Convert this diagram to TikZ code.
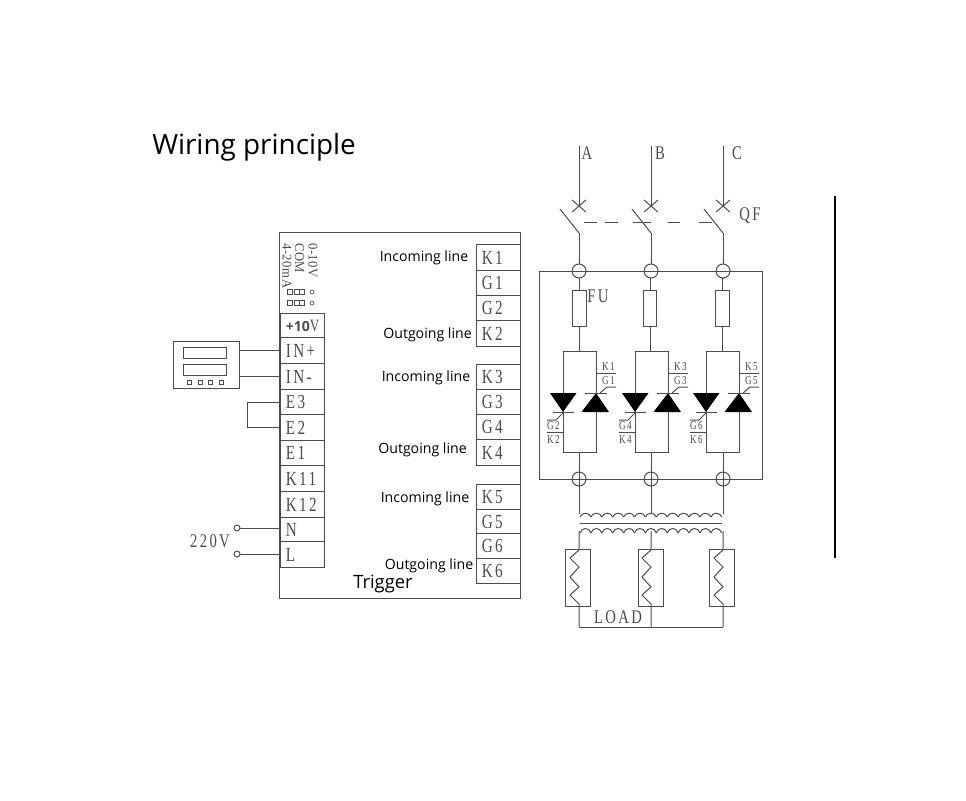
\documentclass[tikz,border=0pt]{standalone}
\usepackage{fontspec}
\setmainfont{Liberation Serif}
\newfontfamily\labfont{Open Sans}
\newfontfamily\termfont[LetterSpace=12,FakeStretch=0.76]{Liberation Serif}
\newfontfamily\topfont[LetterSpace=4,FakeStretch=0.95]{Liberation Serif}
\usetikzlibrary{calc}
\definecolor{ln}{gray}{0.3}
\definecolor{tx}{gray}{0.3}
\tikzset{
 wire/.style={draw=ln,line width=0.75pt},
 box/.style={draw=ln,line width=0.75pt,inner sep=0pt,fill=white},
 term/.style={box,minimum height=#1,text width=25pt,inner xsep=4pt,inner ysep=0pt,align=left,anchor=north west,text=tx,font=\termfont\fontsize{15}{15}\selectfont},
 lab/.style={font=\labfont\fontsize{10.6}{12}\selectfont,text=black,inner sep=0pt},
 tinylab/.style={font=\termfont\fontsize{9}{8}\selectfont,text=tx,inner sep=0pt},
 biglab/.style={font=\termfont\fontsize{14.5}{13}\selectfont,text=tx,inner sep=0pt},
 toplab/.style={font=\topfont\fontsize{10}{8}\selectfont,text=tx,inner sep=0pt,rotate=-90,anchor=west},
 tri/.style={fill=black,draw=none},
 ring/.style={draw=ln,line width=0.75pt,circle,minimum size=10.5pt,inner sep=0pt},
}
\begin{document}
\begin{tikzpicture}[x=0.75pt,y=-0.75pt]
\useasboundingbox (0,0) rectangle (966,800);
\node[font=\labfont\fontsize{20.9}{26}\selectfont,anchor=west,inner sep=0pt] (title) at (152,147.5) {Wiring principle};
% main box
\node[box,minimum width=180.75pt,minimum height=274.5pt,anchor=north west] (main) at (279,232) {};
\node[font=\labfont\fontsize{13.8}{14}\selectfont,inner sep=0pt] (trig) at (383,584) {Trigger};
% rotated labels and switches
\node[toplab] (v10) at (313,243) {0-10V};
\node[toplab] (com) at (299.5,243) {COM};
\node[toplab] (ma) at (287,243) {4-20mA};
\foreach \y in {292,303}{
 \node[box,fill=none,minimum width=4pt,minimum height=3.5pt,line width=0.5pt] (sa\y) at (289.5,\y) {};
 \node[box,fill=none,minimum width=4pt,minimum height=3.5pt,line width=0.5pt] (sb\y) at (296.5,\y) {};
 \node[box,fill=none,minimum width=4pt,minimum height=3.5pt,line width=0.5pt] (sc\y) at (302,\y) {};
 \node[draw=ln,line width=0.5pt,circle,minimum size=3pt,inner sep=0pt] (sd\y) at (312,\y) {};
}
% left terminals
\foreach \n/\t/\a/\h in {p10/{\labfont\bfseries\fontsize{10.5}{11}\selectfont +10\termfont\mdseries\fontsize{13}{13}\selectfont V}/313/18,inp/IN+/337/19.5,inm/IN-/363/19.5,e3/E3/389/18.75,e2/E2/414/19.5,e1/E1/440/18.75,k11/K11/465/19.5,k12/K12/491/19.5,nn/N/517/18,ll/L/541/19.5}{
 \node[term=\h pt] (\n) at (280,\a) {\t};
}
% right terminals
\foreach \n/\t/\a/\h in {tk1/K1/244/19.5,tg1/G1/270/18.75,tg2/G2/295/18.75,tk2/K2/320/19.5,tk3/K3/364/18.75,tg3/G3/389/18.75,tg4/G4/414/18.75,tk4/K4/439/19.5,tk5/K5/484/18.75,tg5/G5/509/18,tg6/G6/533/18.75,tk6/K6/558/18.75}{
 \node[term=\h pt] (\n) at (476,\a) {\t};
}
% line labels
\node[lab] (l1) at (424,257.5) {Incoming line};
\node[lab] (l2) at (427.5,334.5) {Outgoing line};
\node[lab] (l3) at (426,377.5) {Incoming line};
\node[lab] (l4) at (422.5,449.5) {Outgoing line};
\node[lab] (l5) at (425,498.5) {Incoming line};
\node[lab] (l6) at (429,565.5) {Outgoing line};
% meter
\node[box,minimum width=49.5pt,minimum height=35.25pt,anchor=north west] (meter) at (173,341) {};
\node[box,minimum width=32pt,minimum height=8pt,anchor=north west] (d1) at (183,347) {};
\node[box,minimum width=32pt,minimum height=8.5pt,anchor=north west] (d2) at (183,364) {};
\foreach \i/\x in {1/190,2/201,3/211,4/222}{
 \node[box,minimum width=3.5pt,minimum height=3.5pt,line width=0.6pt] (b\i) at (\x-0.5,382.5) {};
}
\draw[wire] (meter.east |- inp.west) -- (inp.west);
\draw[wire] (meter.east |- inm.west) -- (inm.west);
\coordinate (jl) at (247,401);
\draw[wire] (e3.west) -- (e3.west -| jl) -- (jl |- e2.west) -- (e2.west);
\node[draw=ln,line width=0.7pt,circle,minimum size=4.5pt,inner sep=0pt] (tn) at (237,528) {};
\node[draw=ln,line width=0.7pt,circle,minimum size=4.5pt,inner sep=0pt] (tl) at (237,554) {};
\draw[wire] (tn) -- (tn -| nn.west);
\draw[wire] (tl) -- (tl -| ll.west);
\node[biglab] (v220) at (210,541) {220V};
% far right rule
\coordinate (ra) at (835,196); \coordinate (rb) at (835,558);
\draw[line width=0.9pt,black] (ra) -- (rb);
% power box
\node[draw=ln,line width=0.75pt,minimum width=167.25pt,minimum height=156pt,inner sep=0pt,anchor=north west] (pbox) at (539,271) {};
% QF dashes
\foreach \i/\a/\b in {1/584/597,2/605/618,3/633/651,4/668/680,5/699/712}{
 \coordinate (da\i) at (\a,222); \coordinate (db\i) at (\b,222);
 \draw[wire] (da\i) -- (db\i);
}
\node[biglab] (qf) at (750,216) {QF};
\node[biglab] (fulab) at (598,296) {FU};
% phases
\foreach \p/\x/\lx/\fx/\o/\ka/\ga/\gb/\kb/\lbx in {A/579/587/579.5/0/K1/G1/G2/K2/565,B/651/660/650/72/K3/G3/G4/K4/638,C/723/737/722.5/143/K5/G5/G6/K6/709}{
 \coordinate (top\p) at (\x,146);
 \coordinate (cr\p) at (\x,206);
 \coordinate (bl\p) at (\x,233);
 \coordinate (bt\p) at (\x-19,209);
 \node[biglab] (name\p) at (\lx,153) {\p};
 \draw[wire] (top\p) -- (cr\p);
 \draw[wire] ($(cr\p)+(-7,-6)$) -- ($(cr\p)+(7,6)$);
 \draw[wire] ($(cr\p)+(-7,6)$) -- ($(cr\p)+(7,-6)$);
 \draw[wire] (bt\p) -- (bl\p);
 \node[ring] (ra\p) at (\x,271) {};
 \node[ring] (rb\p) at (\x,479) {};
 \draw[wire] (bl\p) -- (ra\p.north);
 \node[box,fill=none,minimum width=10pt,minimum height=27pt] (fu\p) at (\fx,308) {};
 \draw[wire] (ra\p.south) -- (ra\p.south -| fu\p.north) -- (fu\p.north);
 \node[box,fill=none,minimum width=24.5pt,minimum height=75.5pt,anchor=north west] (scr\p) at (563+\o,351) {};
 \draw[wire] (fu\p.south) -- (fu\p.south |- scr\p.north);
 % thyristors
 \fill (550+\o,393) -- (576.5+\o,393) -- (563+\o,412) -- cycle;
 \fill (581.5+\o,412) -- (609+\o,412) -- (596+\o,393) -- cycle;
 % gates right
 \draw[wire] (596+\o,373) -- (616+\o,373);
 \draw[wire] (585+\o,393) -- (607+\o,393);
 \draw[wire] (600+\o,393) -- (607+\o,387) -- (616+\o,387);
 \node[tinylab] (lk\p) at (608.5+\o,367) {\ka};
 \node[tinylab] (lg\p) at (608.5+\o,381) {\ga};
 % gates left
 \draw[wire] (553+\o,412) -- (574+\o,412);
 \draw[wire] (564+\o,412) -- (556+\o,420) -- (547+\o,420);
 \draw[wire] (547+\o,432) -- (563+\o,432);
 \node[tinylab] (lh\p) at (553.5+\o,425.5) {\gb};
 \node[tinylab] (lj\p) at (553.5+\o,439.5) {\kb};
 % down to transformer
 \coordinate (pr\p) at (\x,514);
 \coordinate (se\p) at (\x,531);
 \coordinate (bo\p) at (\x,627);
 \draw[wire] (\x,451.5) -- (pr\p);
 % load
 \node[box,fill=none,minimum width=18.5pt,minimum height=43pt,anchor=north west] (load\p) at (\lbx,549) {};
 \draw[wire] (se\p) -- (\x,550) -- (\x-9,558) -- (\x,567) -- (\x-9,577) -- (\x,587) -- (\x-9,595) -- (\x,604) -- (bo\p);
}
% transformer windings
\foreach \i in {0,...,12}{
 \pgfmathsetmacro\xa{580+\i*10.9}
 \pgfmathsetmacro\xb{\xa+10.9}
 \pgfmathsetmacro\xc{\xa+1.5}
 \pgfmathsetmacro\xd{\xb-1.5}
 \draw[wire] (\xa,517) .. controls (\xc,512) and (\xd,512) .. (\xb,517);
 \draw[wire] (\xa,533) .. controls (\xc,527) and (\xd,527) .. (\xb,533);
}
\coordinate (ba) at (580,523); \coordinate (bb) at (722,523);
\draw[wire] (ba) -- (bb);
\draw[wire] (boA) -- (boC);
\node[biglab] (loadlab) at (618,617) {LOAD};
\end{tikzpicture}
\end{document}
